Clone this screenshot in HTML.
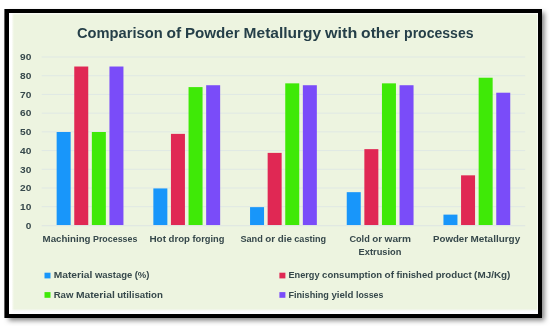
<!DOCTYPE html>
<html lang="en"><head><meta charset="utf-8"><title>Comparison of Powder Metallurgy with other processes</title>
<style>
html,body{margin:0;padding:0;background:#fff;}
body{width:550px;height:326px;overflow:hidden;position:relative;font-family:"Liberation Sans",sans-serif;}
#frame{position:absolute;left:5px;top:9px;width:529px;height:301px;border:4px solid #000;background:#edf4e0;box-shadow:2.5px 2.5px 5px rgba(0,0,0,.5);}
#frame:before{content:"";position:absolute;left:0;top:0;right:0;bottom:0;
 background:
  linear-gradient(to right,#fff 0,#fff 2.5px,rgba(255,255,255,0) 5px) left/6px 100% no-repeat,
  linear-gradient(to top,#fff 0,#fbfbfe 2.8px,rgba(250,250,255,0) 5.3px) bottom/100% 6px no-repeat,
  linear-gradient(to bottom,rgba(255,255,255,.75) 0,rgba(255,255,255,0) 2.4px) top/100% 3px no-repeat,
  linear-gradient(to left,#fff 0,rgba(255,255,255,0) 1.5px) right/2px 100% no-repeat;}
svg{position:absolute;left:0;top:0;}
text{font-family:"Liberation Sans",sans-serif;font-weight:bold;}
</style></head><body>
<div id="frame"></div>
<svg width="550" height="326" viewBox="0 0 550 326">

<rect x="4.4" y="9" width="1" height="309" fill="#000"/>
<g stroke="#dfe8e4" stroke-width="1">
<line x1="41.7" x2="525.2" y1="206.69" y2="206.69"/>
<line x1="41.7" x2="525.2" y1="187.98" y2="187.98"/>
<line x1="41.7" x2="525.2" y1="169.27" y2="169.27"/>
<line x1="41.7" x2="525.2" y1="150.56" y2="150.56"/>
<line x1="41.7" x2="525.2" y1="131.85" y2="131.85"/>
<line x1="41.7" x2="525.2" y1="113.14" y2="113.14"/>
<line x1="41.7" x2="525.2" y1="94.43" y2="94.43"/>
<line x1="41.7" x2="525.2" y1="75.72" y2="75.72"/>
<line x1="41.7" x2="525.2" y1="57.01" y2="57.01"/>
</g>
<rect x="56.65" y="132.00" width="14.0" height="93.10" fill="#1896fa"/>
<rect x="74.25" y="66.52" width="14.0" height="158.58" fill="#e02854"/>
<rect x="91.85" y="132.00" width="14.0" height="93.10" fill="#3fe907"/>
<rect x="109.45" y="66.52" width="14.0" height="158.58" fill="#7a4cf9"/>
<rect x="153.35" y="188.43" width="14.0" height="36.67" fill="#1896fa"/>
<rect x="170.95" y="133.87" width="14.0" height="91.23" fill="#e02854"/>
<rect x="188.55" y="87.10" width="14.0" height="138.00" fill="#3fe907"/>
<rect x="206.15" y="85.23" width="14.0" height="139.87" fill="#7a4cf9"/>
<rect x="250.05" y="207.14" width="14.0" height="17.96" fill="#1896fa"/>
<rect x="267.65" y="152.88" width="14.0" height="72.22" fill="#e02854"/>
<rect x="285.25" y="83.35" width="14.0" height="141.75" fill="#3fe907"/>
<rect x="302.85" y="85.23" width="14.0" height="139.87" fill="#7a4cf9"/>
<rect x="346.75" y="192.17" width="14.0" height="32.93" fill="#1896fa"/>
<rect x="364.35" y="149.14" width="14.0" height="75.96" fill="#e02854"/>
<rect x="381.95" y="83.35" width="14.0" height="141.75" fill="#3fe907"/>
<rect x="399.55" y="85.23" width="14.0" height="139.87" fill="#7a4cf9"/>
<rect x="443.45" y="214.62" width="14.0" height="10.48" fill="#1896fa"/>
<rect x="461.05" y="175.33" width="14.0" height="49.77" fill="#e02854"/>
<rect x="478.65" y="77.74" width="14.0" height="147.36" fill="#3fe907"/>
<rect x="496.25" y="92.71" width="14.0" height="132.39" fill="#7a4cf9"/>
<line x1="41.7" x2="525.2" y1="225.75" y2="225.75" stroke="#dce5e3" stroke-width="1.2"/>
<g font-size="9.8" fill="#36484b">
<text x="25.8" y="228.70" textLength="5.6" lengthAdjust="spacingAndGlyphs">0</text>
<text x="20.1" y="209.99" textLength="11.3" lengthAdjust="spacingAndGlyphs">10</text>
<text x="20.1" y="191.28" textLength="11.3" lengthAdjust="spacingAndGlyphs">20</text>
<text x="20.1" y="172.57" textLength="11.3" lengthAdjust="spacingAndGlyphs">30</text>
<text x="20.1" y="153.86" textLength="11.3" lengthAdjust="spacingAndGlyphs">40</text>
<text x="20.1" y="135.15" textLength="11.3" lengthAdjust="spacingAndGlyphs">50</text>
<text x="20.1" y="116.44" textLength="11.3" lengthAdjust="spacingAndGlyphs">60</text>
<text x="20.1" y="97.73" textLength="11.3" lengthAdjust="spacingAndGlyphs">70</text>
<text x="20.1" y="79.02" textLength="11.3" lengthAdjust="spacingAndGlyphs">80</text>
<text x="20.1" y="60.31" textLength="11.3" lengthAdjust="spacingAndGlyphs">90</text>
</g>
<text y="38" font-size="14" fill="#253f48"><tspan x="77.0" textLength="85.6" lengthAdjust="spacingAndGlyphs">Comparison</tspan> <tspan x="166.5" textLength="14.7" lengthAdjust="spacingAndGlyphs">of</tspan> <tspan x="185.0" textLength="54.7" lengthAdjust="spacingAndGlyphs">Powder</tspan> <tspan x="243.6" textLength="77.6" lengthAdjust="spacingAndGlyphs">Metallurgy</tspan> <tspan x="325.1" textLength="32.2" lengthAdjust="spacingAndGlyphs">with</tspan> <tspan x="361.1" textLength="39.1" lengthAdjust="spacingAndGlyphs">other</tspan> <tspan x="404.1" textLength="69.4" lengthAdjust="spacingAndGlyphs">processes</tspan></text>
<g font-size="9.2" fill="#36484b">
<text y="242.4"><tspan x="42.6" textLength="47.9" lengthAdjust="spacingAndGlyphs">Machining</tspan> <tspan x="93.0" textLength="44.4" lengthAdjust="spacingAndGlyphs">Processes</tspan></text>
<text y="242.4"><tspan x="149.4" textLength="16.6" lengthAdjust="spacingAndGlyphs">Hot</tspan> <tspan x="168.5" textLength="21.4" lengthAdjust="spacingAndGlyphs">drop</tspan> <tspan x="192.4" textLength="32.0" lengthAdjust="spacingAndGlyphs">forging</tspan></text>
<text y="242.4"><tspan x="240.4" textLength="22.4" lengthAdjust="spacingAndGlyphs">Sand</tspan> <tspan x="265.3" textLength="9.8" lengthAdjust="spacingAndGlyphs">or</tspan> <tspan x="277.7" textLength="14.2" lengthAdjust="spacingAndGlyphs">die</tspan> <tspan x="294.3" textLength="31.8" lengthAdjust="spacingAndGlyphs">casting</tspan></text>
<text y="242.4"><tspan x="349.4" textLength="20.4" lengthAdjust="spacingAndGlyphs">Cold</tspan> <tspan x="372.3" textLength="9.8" lengthAdjust="spacingAndGlyphs">or</tspan> <tspan x="384.6" textLength="26.4" lengthAdjust="spacingAndGlyphs">warm</tspan></text>
<text y="255"><tspan x="358.6" textLength="42.8" lengthAdjust="spacingAndGlyphs">Extrusion</tspan></text>
<text y="242.4"><tspan x="433.0" textLength="35.0" lengthAdjust="spacingAndGlyphs">Powder</tspan> <tspan x="470.5" textLength="49.7" lengthAdjust="spacingAndGlyphs">Metallurgy</tspan></text>
</g>
<g font-size="9.2" fill="#36484b">
<text y="278.4"><tspan x="53.7" textLength="38.7" lengthAdjust="spacingAndGlyphs">Material</tspan> <tspan x="94.9" textLength="37.3" lengthAdjust="spacingAndGlyphs">wastage</tspan> <tspan x="134.7" textLength="14.8" lengthAdjust="spacingAndGlyphs">(%)</tspan></text>
<text y="297.8"><tspan x="53.7" textLength="19.7" lengthAdjust="spacingAndGlyphs">Raw</tspan> <tspan x="75.9" textLength="38.9" lengthAdjust="spacingAndGlyphs">Material</tspan> <tspan x="117.2" textLength="45.7" lengthAdjust="spacingAndGlyphs">utilisation</tspan></text>
<text y="278.4"><tspan x="288.4" textLength="31.2" lengthAdjust="spacingAndGlyphs">Energy</tspan> <tspan x="322.1" textLength="60.0" lengthAdjust="spacingAndGlyphs">consumption</tspan> <tspan x="384.6" textLength="9.4" lengthAdjust="spacingAndGlyphs">of</tspan> <tspan x="396.5" textLength="36.6" lengthAdjust="spacingAndGlyphs">finished</tspan> <tspan x="435.7" textLength="36.0" lengthAdjust="spacingAndGlyphs">product</tspan> <tspan x="474.1" textLength="36.3" lengthAdjust="spacingAndGlyphs">(MJ/Kg)</tspan></text>
<text y="297.8"><tspan x="288.4" textLength="40.5" lengthAdjust="spacingAndGlyphs">Finishing</tspan> <tspan x="331.4" textLength="22.1" lengthAdjust="spacingAndGlyphs">yield</tspan> <tspan x="356.0" textLength="27.4" lengthAdjust="spacingAndGlyphs">losses</tspan></text>
</g>
<rect x="44.5" y="272.7" width="6" height="5.7" fill="#1896fa"/>
<rect x="44.5" y="292.1" width="6" height="5.7" fill="#3fe907"/>
<rect x="279.4" y="272.7" width="6" height="5.7" fill="#e02854"/>
<rect x="279.4" y="292.1" width="6" height="5.7" fill="#7a4cf9"/>
</svg>
</body></html>
